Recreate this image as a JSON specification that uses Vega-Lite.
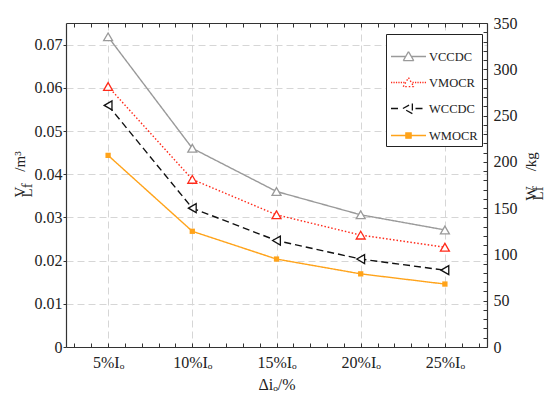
{
  "$schema": "https://vega.github.io/schema/vega-lite/v6.json",
  "width": 421,
  "height": 324,
  "autosize": "none",
  "padding": {"left": 66, "top": 23, "right": 63, "bottom": 61},
  "background": "white",
  "config": {
    "font": "Liberation Serif",
    "view": {"stroke": null},
    "axis": {
      "domainColor": "#333",
      "domainWidth": 1.2,
      "tickColor": "#333",
      "labelColor": "#222",
      "titleColor": "#222",
      "labelFontSize": 16,
      "titleFontSize": 15,
      "titleFontWeight": "normal",
      "labelOverlap": false,
      "labelFlush": false,
      "gridColor": "#d6d6d6",
      "gridDash": [7, 4]
    }
  },
  "datasets": {
    "vol": [
      {"step": 1, "series": "V_CCDC", "value": 0.0718},
      {"step": 2, "series": "V_CCDC", "value": 0.046},
      {"step": 3, "series": "V_CCDC", "value": 0.036},
      {"step": 4, "series": "V_CCDC", "value": 0.0306},
      {"step": 5, "series": "V_CCDC", "value": 0.0271},
      {"step": 1, "series": "V_MOCR", "value": 0.0603},
      {"step": 2, "series": "V_MOCR", "value": 0.0388},
      {"step": 3, "series": "V_MOCR", "value": 0.0306},
      {"step": 4, "series": "V_MOCR", "value": 0.0259},
      {"step": 5, "series": "V_MOCR", "value": 0.0231}
    ],
    "wt": [
      {"step": 1, "series": "W_CCDC", "value": 261},
      {"step": 2, "series": "W_CCDC", "value": 150},
      {"step": 3, "series": "W_CCDC", "value": 115},
      {"step": 4, "series": "W_CCDC", "value": 95},
      {"step": 5, "series": "W_CCDC", "value": 83},
      {"step": 1, "series": "W_MOCR", "value": 207},
      {"step": 2, "series": "W_MOCR", "value": 125},
      {"step": 3, "series": "W_MOCR", "value": 95},
      {"step": 4, "series": "W_MOCR", "value": 79},
      {"step": 5, "series": "W_MOCR", "value": 68}
    ]
  },
  "encoding": {
    "color": {
      "field": "series",
      "type": "nominal",
      "scale": {
        "domain": ["V_CCDC", "V_MOCR", "W_CCDC", "W_MOCR"],
        "range": ["#9a9a9a", "#ff2a1a", "#111111", "#ffa31a"]
      },
      "legend": {
        "title": null,
        "orient": "none",
        "legendX": 320,
        "legendY": 11,
        "padding": 4,
        "strokeColor": "#222",
        "fillColor": "white",
        "symbolSize": 1225,
        "symbolStrokeWidth": 1.3,
        "labelFontSize": 12.5,
        "labelColor": "#222",
        "labelOffset": 2,
        "rowPadding": -1,
        "labelExpr": "datum.value === 'V_CCDC' ? 'VCCDC' : datum.value === 'V_MOCR' ? 'VMOCR' : datum.value === 'W_CCDC' ? 'WCCDC' : 'WMOCR'",
        "encode": {
          "symbols": {
            "update": {
              "shape": {"signal": "datum.value === 'V_CCDC' ? 'M-1,0H-0.15M0.15,0H1M0,-0.28L0.3,0.24M0.3,0.24L-0.3,0.24M-0.3,0.24L0,-0.28' : datum.value === 'V_MOCR' ? 'M-1,0H-0.93M-0.86,0H-0.79M-0.72,0H-0.65M-0.58,0H-0.51M-0.44,0H-0.37M-0.3,0H-0.23M0.23,0H0.3M0.37,0H0.44M0.51,0H0.58M0.65,0H0.72M0.79,0H0.86M0.93,0H1M0,-0.28L0.3,0.24M0.3,0.24L-0.3,0.24M-0.3,0.24L0,-0.28' : datum.value === 'W_CCDC' ? 'M-1,0H-0.5M0.4,0H0.95M-0.32,0L0.22,-0.29M0.22,-0.29L0.22,0.29M0.22,0.29L-0.32,0' : 'M-1,0H1M-0.15,-0.15H0.15V0.15H-0.15Z'"},
              "stroke": {"signal": "datum.value === 'V_CCDC' ? '#9a9a9a' : datum.value === 'V_MOCR' ? '#ff2a1a' : datum.value === 'W_CCDC' ? '#111111' : '#ffa31a'"},
              "strokeDash": {"value": [1, 0]},
              "opacity": {"value": 1}
            }
          }
        }
      }
    }
  },
  "layer": [
    {
      "data": {"name": "vol"},
      "encoding": {
        "x": {
          "field": "step",
          "type": "quantitative",
          "scale": {"domain": [0.5, 5.5], "nice": false, "zero": false},
          "axis": {
            "orient": "bottom",
            "values": [0.6, 0.8, 1, 1.2, 1.4, 1.6, 1.8, 2, 2.2, 2.4, 2.6, 2.8, 3, 3.2, 3.4, 3.6, 3.8, 4, 4.2, 4.4, 4.6, 4.8, 5, 5.2, 5.4],
            "labelExpr": "abs(datum.value - round(datum.value)) < 0.01 ? (round(datum.value) * 5) + '%Iₒ' : ''",
            "grid": true,
            "gridOpacity": {"condition": {"test": "abs(datum.value - round(datum.value)) > 0.01", "value": 0}, "value": 1},
            "tickSize": -4,
            "labelPadding": 11,
            "title": "Δiₒ/%",
            "titleFontSize": 16,
            "titlePadding": 6
          }
        },
        "y": {
          "field": "value",
          "type": "quantitative",
          "scale": {"domain": [0, 0.075], "nice": false},
          "axis": {
            "orient": "left",
            "values": [0, 0.01, 0.02, 0.03, 0.04, 0.05, 0.06, 0.07],
            "labelExpr": "datum.value === 0 ? '0' : format(datum.value, '.2f')",
            "grid": true,
            "tickSize": 3,
            "labelPadding": 1,
            "title": ["V\u00a0\u00a0\u00a0\u00a0/m³", "\u00a0\u00a0\u00a0Lf"],
            "titleAlign": "left",
            "titleBaseline": "middle",
            "titleAngle": -90,
            "titleX": -47,
            "titleY": 174,
            "titleLineHeight": 7
          }
        }
      },
      "layer": [
        {
          "mark": {"type": "line", "strokeWidth": 1.4},
          "encoding": {
            "strokeDash": {
              "field": "series",
              "type": "nominal",
              "scale": {
                "domain": ["V_CCDC", "V_MOCR", "W_CCDC", "W_MOCR"],
                "range": [[1, 0], [1.5, 2], [7, 4], [1, 0]]
              },
              "legend": null
            }
          }
        },
        {
          "mark": {"type": "point", "shape": "triangle-up", "size": 80, "filled": false, "fill": "white", "strokeWidth": 1.3, "opacity": 1}
        }
      ]
    },
    {
      "data": {"name": "wt"},
      "encoding": {
        "x": {
          "field": "step",
          "type": "quantitative",
          "scale": {"domain": [0.5, 5.5], "nice": false, "zero": false},
          "axis": {
            "orient": "top",
            "values": [0.6, 0.8, 1, 1.2, 1.4, 1.6, 1.8, 2, 2.2, 2.4, 2.6, 2.8, 3, 3.2, 3.4, 3.6, 3.8, 4, 4.2, 4.4, 4.6, 4.8, 5, 5.2, 5.4],
            "labels": false,
            "grid": false,
            "tickSize": -4,
            "title": null
          }
        },
        "y": {
          "field": "value",
          "type": "quantitative",
          "scale": {"domain": [0, 350], "nice": false},
          "axis": {
            "orient": "right",
            "values": [0, 10, 20, 30, 40, 50, 60, 70, 80, 90, 100, 110, 120, 130, 140, 150, 160, 170, 180, 190, 200, 210, 220, 230, 240, 250, 260, 270, 280, 290, 300, 310, 320, 330, 340, 350],
            "labelExpr": "datum.value % 50 === 0 ? datum.label : ''",
            "grid": false,
            "tickSize": -4,
            "labelPadding": 10,
            "title": ["W\u00a0\u00a0\u00a0\u00a0/kg", "\u00a0\u00a0\u00a0\u00a0Lf"],
            "titleAlign": "left",
            "titleBaseline": "middle",
            "titleAngle": -90,
            "titleX": 43,
            "titleY": 177,
            "titleLineHeight": 7
          }
        }
      },
      "layer": [
        {
          "mark": {"type": "line", "strokeWidth": 1.4},
          "encoding": {
            "strokeDash": {"field": "series", "type": "nominal", "legend": null}
          }
        },
        {
          "transform": [{"filter": "datum.series === 'W_CCDC'"}],
          "mark": {"type": "point", "shape": "triangle-left", "size": 80, "filled": false, "fill": "white", "strokeWidth": 1.3, "opacity": 1}
        },
        {
          "transform": [{"filter": "datum.series === 'W_MOCR'"}],
          "mark": {"type": "point", "shape": "square", "size": 28, "filled": true, "opacity": 1}
        }
      ]
    }
  ],
  "resolve": {"scale": {"x": "independent", "y": "independent"}}
}
